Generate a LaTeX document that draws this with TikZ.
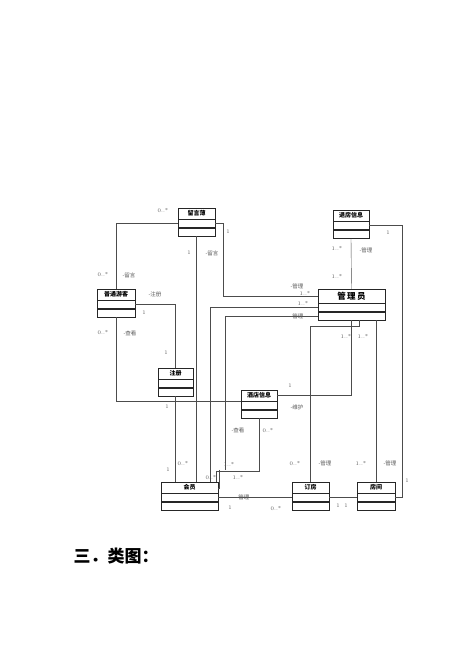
\documentclass[tikz,border=0pt]{standalone}
\usepackage{fontspec}
\newfontfamily\cjk{Noto Sans CJK SC}
\usetikzlibrary{positioning}

\tikzset{
  cls/.style={draw=black!85, line width=0.45pt, minimum width=#1, minimum height=11pt, inner sep=0pt,
    font=\cjk\bfseries\fontsize{6}{7}\selectfont},
  part/.style={draw=black!85, line width=0.45pt, minimum width=#1, minimum height=8pt, inner sep=0pt},
  wire/.style={draw=black!70, line width=0.4pt},
  mult/.style={font=\fontsize{5.5}{6}\selectfont, inner sep=0pt, text=black!65},
  role/.style={font=\cjk\fontsize{5.5}{6}\selectfont, inner sep=0pt, text=black!65}
}

\begin{document}
\begin{tikzpicture}[x=1pt, y=-1pt]
\useasboundingbox (0,0) rectangle (474,670);

% Classes
\node[cls=37pt] (guestbook) at (196.5,213.5) {留言薄};
\node[part=37pt, below=0pt of guestbook] (guestbook-a) {};
\node[part=37pt, below=0pt of guestbook-a] (guestbook-b) {};

\node[cls=38pt] (visitor) at (116,294.5) {普通游客};
\node[part=38pt, below=0pt of visitor] (visitor-a) {};
\node[part=38pt, below=0pt of visitor-a] (visitor-b) {};

\node[cls=36pt] (checkout) at (351,215.5) {退房信息};
\node[part=36pt, below=0pt of checkout] (checkout-a) {};
\node[part=36pt, below=0pt of checkout-a] (checkout-b) {};

\node[cls=67pt, minimum height=14pt, font=\cjk\bfseries\fontsize{8.5}{9}\selectfont] (admin) at (351.5,296) {管\,理\,员};
\node[part=67pt, below=0pt of admin] (admin-a) {};
\node[part=67pt, below=0pt of admin-a] (admin-b) {};

\node[cls=35pt] (register) at (175.5,373.5) {注册};
\node[part=35pt, below=0pt of register] (register-a) {};
\node[part=35pt, below=0pt of register-a] (register-b) {};

\node[cls=36pt] (hotelinfo) at (259,395.5) {酒店信息};
\node[part=36pt, below=0pt of hotelinfo] (hotelinfo-a) {};
\node[part=36pt, below=0pt of hotelinfo-a] (hotelinfo-b) {};

\node[cls=57pt] (member) at (189.5,487.5) {会员};
\node[part=57pt, below=0pt of member] (member-a) {};
\node[part=57pt, below=0pt of member-a] (member-b) {};

\node[cls=37pt] (booking) at (310.5,487.5) {订房};
\node[part=37pt, below=0pt of booking] (booking-a) {};
\node[part=37pt, below=0pt of booking-a] (booking-b) {};

\node[cls=38pt] (room) at (376,487.5) {房间};
\node[part=38pt, below=0pt of room] (room-a) {};
\node[part=38pt, below=0pt of room-a] (room-b) {};

% Associations
\draw[wire] (visitor.north) |- (guestbook-a.west);
\draw[wire] (guestbook-a.east) -- ++(8,0) |- (admin.west);
\draw[wire] (guestbook-b.south) -- (guestbook-b.south |- member.north);
\draw[wire] (visitor-a.east) -| (register.north);
\draw[wire] (visitor-b.south) |- (hotelinfo.south west);
\draw[wire] (register-b.south) -- (register-b.south |- member.north);
\draw[wire] (admin-a.west) -| ([xshift=-8pt]member.north east);
\draw[wire] (hotelinfo-b.south) -- ++(0,53) -| ([xshift=-2pt]member.north east);
\draw[wire] (admin-b.west) -| ([xshift=7pt,yshift=12pt]member.north east);
\draw[wire] ([xshift=1pt,yshift=12pt]member.north east) |- ([yshift=-1pt]member.east);
\draw[wire] (admin-b.south) -- ++(0,6) -| (booking.north);
\draw[wire] (hotelinfo.east) -| (admin-b.south);
\draw[wire] ([xshift=8pt]admin-b.south) -- ++(0,6) -| (admin-b.south);
\draw[wire] (room.north) -- (room.north |- admin-b.south);
\draw[wire] (checkout-b.south) -- (admin.north);
\draw[wire] (checkout-a.east) -- ++(33,0) |- (room-a.east);
\draw[wire] (member-a.east) -- (booking-a.west);
\draw[wire] (booking-a.east) -- (room-a.west);

% Multiplicities and roles
\node[mult] (m1) at (163,210) {0..*};
\node[mult] (m2) at (103,274) {0..*};
\node[role] (r1) at (129,275) {-留言};
\node[mult] (m3) at (228,232) {1};
\node[mult] (m4) at (189,253) {1};
\node[role] (r2) at (212,253) {-留言};
\node[role] (r3) at (155,294) {-注册};
\node[mult] (m5) at (144,313) {1};
\node[mult] (m6) at (166,353) {1};
\node[mult] (m7) at (103,332) {0..*};
\node[role] (r4) at (130,333) {-查看};
\node[mult] (m8) at (167,407) {1};
\node[role] (r5) at (297,286) {-管理};
\node[mult] (m9) at (305,293) {1..*};
\node[mult] (m10) at (303,303) {1..*};
\node[role] (r6) at (297,316) {-管理};
\node[mult] (m11) at (337,248) {1..*};
\node[role] (r7) at (366,250) {-管理};
\node[mult] (m12) at (337,276) {1..*};
\node[mult] (m13) at (388,233) {1};
\node[mult] (m14) at (290,386) {1};
\node[role] (r8) at (297,407) {-维护};
\node[mult] (m15) at (346,336) {1..*};
\node[mult] (m16) at (363,336) {1..*};
\node[role] (r9) at (238,430) {-查看};
\node[mult] (m17) at (268,430) {0..*};
\node[mult] (m18) at (183,463) {0..*};
\node[mult] (m19) at (168,470) {1};
\node[mult] (m20) at (211,477) {0..*};
\node[mult] (m21) at (229,464) {1..*};
\node[mult] (m22) at (238,477) {1..*};
\node[mult] (m23) at (295,463) {0..*};
\node[role] (r10) at (325,463) {-管理};
\node[mult] (m24) at (361,463) {1..*};
\node[role] (r11) at (390,463) {-管理};
\node[mult] (m25) at (407,481) {1};
\node[role] (r12) at (243,497) {-管理};
\node[mult] (m26) at (230,508) {1};
\node[mult] (m27) at (276,508) {0..*};
\node[mult] (m28) at (342,506) {1\ \ 1};

% Caption
\node[font=\cjk\bfseries\fontsize{17}{18}\selectfont, anchor=west] (caption) at (70,556) {三．类图：};

\end{tikzpicture}
\end{document}
